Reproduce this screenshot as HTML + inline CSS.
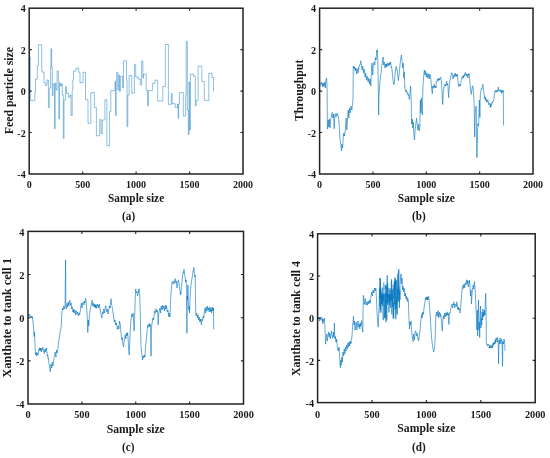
<!DOCTYPE html>
<html><head><meta charset="utf-8"><style>
html,body{margin:0;padding:0;background:#fff;width:550px;height:458px;overflow:hidden}
svg{display:block}
text{font-family:"Liberation Serif","Times New Roman",serif;font-weight:bold;fill:#1a1a1a}
.cp{font-size:11.2px}
</style></head><body>
<svg width="550" height="458" viewBox="0 0 550 458">
<polyline points="29.30,57.20 30.30,57.20 30.30,100.40 34.80,100.40 34.80,92.00 35.50,92.00 35.50,79.00 37.30,79.00 37.30,65.70 38.40,65.70 38.40,44.80 41.70,44.80 41.70,71.00 42.70,71.00 42.70,72.30 44.00,72.30 44.00,82.70 45.40,82.70 45.40,85.40 47.00,85.40 47.00,80.00 48.40,80.00 48.40,107.60 49.30,107.60 49.30,88.00 50.60,88.00 50.60,67.00 51.00,67.00 51.00,48.70 51.60,48.70 51.60,67.00 52.30,67.00 52.30,95.90 53.00,95.90 53.00,84.00 54.50,84.00 54.50,128.60 55.20,128.60 55.20,83.00 56.00,83.00 56.00,90.00 57.10,90.00 57.10,71.00 58.40,71.00 58.40,80.00 58.80,80.00 58.80,118.80 59.50,118.80 59.50,83.00 60.50,83.00 60.50,86.00 61.50,86.00 61.50,84.00 62.30,84.00 62.30,95.00 63.30,95.00 63.30,138.40 64.00,138.40 64.00,100.00 65.60,100.00 65.60,86.70 66.30,86.70 66.30,93.20 68.50,93.20 68.50,97.20 70.00,97.20 70.00,95.00 71.00,95.00 71.00,115.50 72.20,115.50 72.20,90.00 72.80,90.00 72.80,80.00 73.50,80.00 73.50,71.00 76.10,71.00 76.10,68.30 78.70,68.30 78.70,72.30 80.00,72.30 80.00,82.70 83.00,82.70 83.00,72.30 85.50,72.30 85.50,99.80 88.00,99.80 88.00,123.30 90.80,123.30 90.80,93.20 91.80,93.20 91.80,92.50 94.40,92.50 94.40,107.60 96.40,107.60 96.40,135.80 99.70,135.80 99.70,119.40 101.00,119.40 101.00,133.80 102.30,133.80 102.30,120.00 104.90,120.00 104.90,99.80 106.90,99.80 106.90,145.60 109.50,145.60 109.50,111.60 110.80,111.60 110.80,90.60 115.00,90.60 115.00,81.40 115.60,81.40 115.60,115.50 116.20,115.50 116.20,81.00 116.70,81.00 116.70,72.30 117.80,72.30 117.80,90.00 118.70,90.00 118.70,75.00 119.50,75.00 119.50,91.30 120.60,91.30 120.60,76.20 122.60,76.20 122.60,88.00 123.50,88.00 123.50,60.70 126.50,60.70 126.50,80.00 127.00,80.00 127.00,126.60 127.80,126.60 127.80,95.00 129.10,95.00 129.10,75.50 131.80,75.50 131.80,93.20 134.40,93.20 134.40,64.40 135.70,64.40 135.70,77.00 138.00,77.00 138.00,79.00 140.30,79.00 140.30,85.00 141.60,85.00 141.60,61.10 142.90,61.10 142.90,78.00 143.50,78.00 143.50,74.20 146.20,74.20 146.20,90.60 147.60,90.60 147.60,105.70 148.40,105.70 148.40,90.60 152.40,90.60 152.40,83.40 155.00,83.40 155.00,80.10 157.70,80.10 157.70,101.00 162.80,101.00 162.80,86.70 165.30,86.70 165.30,44.50 168.40,44.50 168.40,104.40 171.30,104.40 171.30,93.50 172.20,93.50 172.20,103.70 175.20,103.70 175.20,107.60 177.50,107.60 177.50,104.00 178.10,104.00 178.10,118.10 178.70,118.10 178.70,104.00 179.40,104.00 179.40,92.60 183.30,92.60 183.30,116.10 185.70,116.10 185.70,95.00 186.20,95.00 186.20,41.50 187.30,41.50 187.30,110.00 188.30,110.00 188.30,134.50 189.00,134.50 189.00,82.00 189.60,82.00 189.60,130.00 190.40,130.00 190.40,74.20 193.60,74.20 193.60,76.20 195.30,76.20 195.30,105.70 196.20,105.70 196.20,100.40 198.10,100.40 198.10,66.40 201.80,66.40 201.80,81.40 204.30,81.40 204.30,100.40 208.80,100.40 208.80,73.30 212.00,73.30 212.00,77.50 213.50,77.50 213.50,91.30" fill="none" stroke="#0072BD" stroke-width="0.45" stroke-linejoin="round"/>
<rect x="29.2" y="8.2" width="213.80" height="165.80" fill="none" stroke="#222" stroke-width="1.5"/>
<path d="M82.65,174v-2.6M82.65,8.2v2.6M136.10,174v-2.6M136.10,8.2v2.6M189.55,174v-2.6M189.55,8.2v2.6M29.2,132.55h2.6M243,132.55h-2.6M29.2,91.10h2.6M243,91.10h-2.6M29.2,49.65h2.6M243,49.65h-2.6" stroke="#222" stroke-width="1.1" fill="none"/>
<text x="29.20" y="188.20" text-anchor="middle" class="tk" font-size="10">0</text>
<text x="82.65" y="188.20" text-anchor="middle" class="tk" font-size="10">500</text>
<text x="136.10" y="188.20" text-anchor="middle" class="tk" font-size="10">1000</text>
<text x="189.55" y="188.20" text-anchor="middle" class="tk" font-size="10">1500</text>
<text x="243.00" y="188.20" text-anchor="middle" class="tk" font-size="10">2000</text>
<text x="25.70" y="178.10" text-anchor="end" class="tk" font-size="10">-4</text>
<text x="25.70" y="136.65" text-anchor="end" class="tk" font-size="10">-2</text>
<text x="25.70" y="95.20" text-anchor="end" class="tk" font-size="10">0</text>
<text x="25.70" y="53.75" text-anchor="end" class="tk" font-size="10">2</text>
<text x="25.70" y="12.30" text-anchor="end" class="tk" font-size="10">4</text>
<text transform="translate(136.10,201.8) scale(1,1.09)" text-anchor="middle" class="lb" font-size="11.3">Sample size</text>
<text transform="translate(128.60,220.2) scale(1.0,1.03)" text-anchor="middle" class="cp">(a)</text>
<text transform="translate(12.6,90.6) rotate(-90)" text-anchor="middle" class="lb" font-size="11.8">Feed particle size</text>
<polyline points="320.00,84.00 320.25,84.89 320.50,84.50 320.70,83.84 320.90,83.49 321.10,83.68 321.30,82.11 321.50,82.00 322.30,87.00 322.53,86.27 322.77,83.64 323.00,83.00 323.20,85.08 323.40,83.34 323.60,85.65 323.80,85.66 324.00,86.50 324.20,84.77 324.40,85.66 324.60,83.92 324.80,82.00 325.30,88.00 326.00,79.00 326.20,78.58 326.40,78.69 326.60,78.00 327.00,85.00 327.20,100.00 327.30,122.00 327.60,129.00 328.20,120.00 328.80,127.00 329.40,119.00 330.00,128.00 330.60,121.00 330.83,118.10 331.05,117.84 331.27,117.48 331.50,116.00 331.73,114.54 331.97,113.58 332.20,112.40 332.80,118.00 333.03,117.41 333.27,115.70 333.50,114.00 334.20,128.80 334.80,116.00 335.03,114.94 335.27,113.54 335.50,114.00 335.73,114.81 335.97,117.06 336.20,116.00 336.40,115.05 336.60,113.76 336.80,113.51 337.00,113.70 337.20,113.25 337.40,115.37 337.60,114.65 337.80,114.72 338.00,116.00 338.20,116.69 338.40,117.27 338.60,118.00 339.20,125.00 339.80,137.00 340.50,142.00 341.00,147.00 341.50,151.00 342.00,144.00 342.60,148.00 343.20,138.00 343.80,133.00 344.03,135.58 344.27,134.92 344.50,136.00 345.50,128.00 346.20,118.00 346.80,130.00 347.50,120.00 348.20,110.00 348.80,118.00 349.50,108.00 350.20,113.00 351.00,106.00 351.20,107.15 351.40,108.17 351.60,108.59 351.80,110.00 352.50,104.00 353.00,100.00 353.30,66.20 353.53,68.07 353.77,67.19 354.00,69.00 354.20,68.26 354.40,67.35 354.60,66.50 355.30,71.00 355.53,68.77 355.77,70.04 356.00,68.00 356.60,74.00 357.30,69.00 357.53,69.39 357.77,71.54 358.00,73.00 358.20,72.37 358.40,70.55 358.60,67.83 358.80,68.98 359.00,67.00 359.20,65.46 359.40,65.61 359.60,65.63 359.80,64.60 360.00,64.00 360.23,64.26 360.45,62.91 360.67,60.77 360.90,61.00 361.50,66.00 361.73,67.60 361.97,69.69 362.20,70.00 362.80,66.00 363.50,73.00 363.73,71.09 363.97,71.03 364.20,69.00 365.00,77.00 365.23,76.33 365.47,76.50 365.70,73.00 366.40,80.00 366.60,79.39 366.80,77.96 367.00,76.49 367.20,76.00 368.00,82.00 368.23,81.83 368.47,78.17 368.70,78.00 369.50,84.00 370.20,79.00 370.80,86.00 371.50,70.00 372.00,63.00 372.70,75.00 373.30,66.00 373.53,64.72 373.77,63.35 374.00,62.00 374.23,61.94 374.47,63.68 374.70,65.00 375.40,58.00 375.60,58.10 375.80,57.46 376.00,60.00 376.60,53.00 376.80,50.58 377.00,52.14 377.20,49.80 377.70,58.00 378.20,80.00 378.60,115.00 379.00,95.00 379.80,84.00 380.50,76.00 380.73,74.04 380.97,73.89 381.20,72.00 382.00,64.00 382.25,63.52 382.50,61.00 383.10,57.00 383.60,65.00 383.83,63.74 384.07,62.84 384.30,62.00 385.00,68.00 385.23,66.31 385.47,66.58 385.70,64.00 385.93,66.18 386.17,64.11 386.40,67.00 386.60,65.08 386.80,65.15 387.00,63.14 387.20,63.00 387.40,63.42 387.60,64.73 387.80,66.09 388.00,66.00 388.20,64.82 388.40,65.75 388.60,63.67 388.80,63.00 389.03,64.79 389.27,65.16 389.50,65.00 389.70,63.81 389.90,62.17 390.10,64.42 390.30,62.30 390.53,62.22 390.77,63.97 391.00,65.00 391.20,66.15 391.40,67.61 391.60,66.94 391.80,68.14 392.00,70.00 392.80,78.00 393.60,84.50 393.80,83.63 394.00,84.19 394.20,83.57 394.40,82.00 395.20,72.00 395.40,71.77 395.60,69.40 395.80,69.34 396.00,66.67 396.20,66.20 396.43,66.71 396.67,69.59 396.90,70.00 397.13,69.61 397.37,72.87 397.60,74.00 398.40,80.60 399.30,72.00 400.10,64.00 400.80,58.00 401.00,56.87 401.20,56.37 401.40,55.00 402.00,60.00 402.60,68.00 403.20,63.00 403.80,78.00 404.30,72.00 404.80,88.00 405.03,87.76 405.27,91.32 405.50,91.00 405.70,91.46 405.90,91.77 406.10,90.48 406.30,90.00 406.53,90.56 406.77,92.29 407.00,93.00 407.20,92.54 407.40,92.99 407.60,94.54 407.80,94.00 408.03,94.08 408.27,93.51 408.50,96.00 408.73,95.36 408.97,97.80 409.20,99.00 409.40,99.53 409.60,97.70 409.80,97.00 410.30,89.00 410.55,85.95 410.80,88.40 411.20,100.00 411.60,124.00 412.30,119.00 412.80,128.00 413.30,122.00 413.80,134.00 414.50,139.90 415.10,130.00 415.70,125.00 416.50,118.30 417.20,124.00 417.90,130.00 418.60,124.00 419.20,131.00 419.40,130.17 419.60,128.76 419.80,128.00 420.40,100.00 420.80,113.00 421.30,98.00 421.80,108.00 422.30,115.00 422.80,90.00 423.20,83.00 423.70,76.00 424.40,70.10 425.00,75.00 425.60,71.00 426.30,77.00 426.53,75.39 426.77,75.65 427.00,73.00 427.70,78.00 427.93,77.45 428.17,76.97 428.40,74.00 429.10,79.00 429.80,74.00 430.03,75.64 430.27,75.29 430.50,76.00 431.20,83.00 431.80,90.00 432.30,93.70 432.80,86.00 433.03,87.39 433.27,86.96 433.50,88.00 433.70,88.22 433.90,85.41 434.10,84.35 434.30,84.50 434.50,85.45 434.70,86.88 434.90,85.97 435.10,88.00 435.33,86.89 435.57,86.28 435.80,86.00 436.00,87.70 436.20,84.47 436.40,81.62 436.60,82.00 436.80,81.79 437.00,80.61 437.20,80.13 437.40,79.00 437.60,79.50 437.80,80.52 438.00,79.19 438.20,80.60 438.40,79.36 438.60,78.92 438.80,78.89 439.00,78.00 439.20,80.16 439.40,79.35 439.60,79.83 439.80,80.00 440.00,78.78 440.20,78.39 440.40,77.56 440.60,77.50 440.83,77.19 441.07,79.50 441.30,80.00 441.90,90.00 442.70,104.50 443.30,92.00 444.00,87.00 444.20,87.11 444.40,85.05 444.60,84.41 444.80,84.00 445.00,84.29 445.20,84.47 445.40,85.34 445.60,86.00 445.80,84.97 446.00,85.94 446.20,84.45 446.40,82.00 446.60,82.16 446.80,81.37 447.00,84.75 447.20,84.00 447.43,84.99 447.67,83.75 447.90,85.00 448.60,97.60 449.20,88.00 449.80,82.00 450.03,80.38 450.27,79.93 450.50,78.00 450.70,78.14 450.90,76.50 451.10,75.00 451.35,73.73 451.60,72.70 451.83,73.39 452.07,73.17 452.30,76.00 452.53,76.11 452.77,76.81 453.00,79.00 453.23,77.06 453.47,75.52 453.70,75.00 453.90,75.29 454.10,75.68 454.30,76.05 454.50,77.00 454.73,73.93 454.97,75.29 455.20,74.00 455.40,73.09 455.60,73.63 455.80,76.24 456.00,76.00 456.20,76.51 456.40,74.99 456.60,74.66 456.80,75.00 457.00,76.01 457.20,73.99 457.40,77.34 457.60,78.00 458.30,83.00 458.53,85.24 458.77,86.41 459.00,87.00 459.23,84.57 459.47,84.83 459.70,84.00 459.90,84.41 460.10,84.72 460.30,86.00 460.53,85.45 460.77,83.46 461.00,82.00 461.20,81.24 461.40,80.48 461.60,80.00 461.80,79.00 462.03,77.25 462.27,77.68 462.50,78.00 462.70,77.71 462.90,75.96 463.10,78.24 463.30,77.00 463.53,75.71 463.77,76.13 464.00,75.00 464.23,76.26 464.47,74.58 464.70,74.00 464.90,74.52 465.10,72.81 465.30,73.67 465.50,72.70 465.73,73.16 465.97,75.02 466.20,76.00 466.40,75.10 466.60,74.36 466.80,75.42 467.00,74.00 467.20,74.58 467.40,76.59 467.60,75.91 467.80,78.00 468.00,77.50 468.20,74.49 468.40,74.97 468.60,75.00 468.80,73.32 469.00,74.37 469.20,74.00 469.80,80.00 470.30,88.00 470.80,92.00 471.00,92.27 471.20,94.46 471.40,93.70 472.10,88.00 472.30,86.47 472.50,86.64 472.70,85.80 473.30,90.00 474.00,99.00 474.70,137.00 475.30,112.00 476.20,106.00 476.90,157.60 477.40,140.00 477.80,124.00 478.00,123.50 478.20,124.31 478.40,124.56 478.60,126.00 479.30,100.00 479.90,117.60 480.30,95.00 481.00,90.00 481.23,89.24 481.47,89.53 481.70,88.00 481.93,88.52 482.17,86.57 482.40,85.80 482.63,85.39 482.87,84.14 483.10,86.00 483.80,92.00 484.40,96.00 484.60,97.98 484.80,96.75 485.00,99.00 485.20,97.16 485.40,100.08 485.60,98.53 485.80,100.00 486.00,100.27 486.20,99.18 486.40,101.58 486.60,100.38 486.80,102.00 487.02,101.44 487.25,101.81 487.48,101.00 487.70,100.50 487.93,99.69 488.15,102.42 488.38,102.05 488.60,104.00 488.83,104.90 489.05,104.44 489.27,103.72 489.50,103.00 489.73,103.27 489.95,103.85 490.17,107.27 490.40,107.20 490.62,104.80 490.85,107.07 491.07,103.59 491.30,105.00 491.52,104.59 491.75,104.06 491.98,102.75 492.20,103.00 492.40,102.03 492.60,103.05 492.80,102.73 493.00,101.50 493.23,100.52 493.47,100.70 493.70,100.60 494.30,95.00 494.53,94.17 494.77,91.12 495.00,91.00 495.20,90.59 495.40,90.51 495.60,90.00 495.80,90.50 496.03,92.42 496.27,91.01 496.50,92.00 496.73,91.11 496.97,90.61 497.20,90.00 497.40,89.85 497.60,91.62 497.80,91.50 498.30,87.00 498.80,91.00 499.00,90.19 499.20,90.68 499.40,90.68 499.60,90.00 499.80,90.27 500.00,90.58 500.20,90.67 500.40,92.00 500.60,91.44 500.80,91.06 501.00,89.63 501.20,90.50 501.40,91.69 501.60,93.56 501.80,90.88 502.00,91.70 502.20,92.07 502.40,91.59 502.60,90.73 502.80,90.00 503.05,92.14 503.30,91.00 503.50,125.50" fill="none" stroke="#0072BD" stroke-width="0.6" stroke-linejoin="round"/>
<rect x="319.6" y="8.2" width="213.40" height="165.80" fill="none" stroke="#222" stroke-width="1.5"/>
<path d="M372.95,174v-2.6M372.95,8.2v2.6M426.30,174v-2.6M426.30,8.2v2.6M479.65,174v-2.6M479.65,8.2v2.6M319.6,132.55h2.6M533,132.55h-2.6M319.6,91.10h2.6M533,91.10h-2.6M319.6,49.65h2.6M533,49.65h-2.6" stroke="#222" stroke-width="1.1" fill="none"/>
<text x="319.60" y="188.20" text-anchor="middle" class="tk" font-size="10.1">0</text>
<text x="372.95" y="188.20" text-anchor="middle" class="tk" font-size="10.1">500</text>
<text x="426.30" y="188.20" text-anchor="middle" class="tk" font-size="10.1">1000</text>
<text x="479.65" y="188.20" text-anchor="middle" class="tk" font-size="10.1">1500</text>
<text x="533.00" y="188.20" text-anchor="middle" class="tk" font-size="10.1">2000</text>
<text x="316.10" y="178.10" text-anchor="end" class="tk" font-size="10.1">-4</text>
<text x="316.10" y="136.65" text-anchor="end" class="tk" font-size="10.1">-2</text>
<text x="316.10" y="95.20" text-anchor="end" class="tk" font-size="10.1">0</text>
<text x="316.10" y="53.75" text-anchor="end" class="tk" font-size="10.1">2</text>
<text x="316.10" y="12.30" text-anchor="end" class="tk" font-size="10.1">4</text>
<text transform="translate(426.30,201.8) scale(1,1.09)" text-anchor="middle" class="lb" font-size="11.5">Sample size</text>
<text transform="translate(418.80,219.5) scale(1.0,1.03)" text-anchor="middle" class="cp">(b)</text>
<text transform="translate(303.4,90.4) rotate(-90)" text-anchor="middle" class="lb" font-size="11.8">Throughput</text>
<polyline points="28.50,316.00 28.70,315.53 28.90,314.96 29.10,314.26 29.30,315.00 29.53,314.66 29.77,315.25 30.00,317.00 30.20,316.90 30.40,316.24 30.60,315.71 30.80,315.60 31.00,317.10 31.20,316.79 31.40,316.63 31.60,318.00 31.80,316.88 32.00,317.88 32.20,318.10 32.40,316.50 33.00,322.00 33.60,328.00 34.10,336.60 34.50,332.00 35.00,345.00 35.50,354.90 35.73,354.23 35.97,353.28 36.20,352.30 36.80,356.20 37.00,355.62 37.20,352.71 37.40,353.00 37.60,353.87 37.80,354.80 38.00,355.00 38.60,350.00 38.83,350.38 39.07,349.68 39.30,347.70 39.53,349.65 39.77,350.76 40.00,351.00 40.23,348.45 40.47,349.35 40.70,348.00 40.93,350.67 41.17,348.42 41.40,352.00 41.63,351.05 41.87,349.70 42.10,349.00 42.33,349.46 42.57,347.29 42.80,347.70 43.03,347.81 43.27,349.92 43.50,351.00 43.73,351.69 43.97,351.31 44.20,353.60 44.90,349.00 45.13,349.18 45.37,351.98 45.60,350.00 45.83,349.38 46.07,349.64 46.30,348.00 46.53,350.30 46.77,352.18 47.00,352.00 47.23,353.26 47.47,356.27 47.70,355.00 47.90,355.64 48.10,358.76 48.30,358.00 48.90,362.70 49.10,364.61 49.30,364.83 49.50,366.00 50.30,371.90 51.00,364.00 51.60,368.00 52.30,362.00 52.53,363.13 52.77,365.21 53.00,366.00 53.60,360.00 53.83,359.56 54.05,358.71 54.27,356.77 54.50,356.00 54.73,355.61 54.97,353.28 55.20,352.00 55.90,357.00 56.60,350.00 56.83,351.76 57.07,352.42 57.30,353.00 58.00,348.30 58.80,340.00 59.03,340.12 59.27,338.40 59.50,336.00 60.10,332.00 60.30,330.74 60.50,330.79 60.70,330.00 61.30,325.00 61.70,316.00 62.00,312.00 62.60,308.00 62.80,308.29 63.00,308.69 63.20,310.00 63.80,306.00 64.00,306.85 64.20,308.31 64.40,309.00 64.60,308.42 64.80,308.42 65.00,307.00 65.60,260.20 65.90,306.00 66.15,307.45 66.40,309.00 67.00,304.00 67.20,303.42 67.40,305.34 67.60,307.00 68.30,302.00 68.90,306.00 69.15,303.65 69.40,303.00 69.65,301.08 69.90,300.20 70.50,305.00 70.70,305.22 70.90,304.47 71.10,303.00 71.70,309.00 71.90,307.85 72.10,308.03 72.30,307.00 73.00,312.00 73.20,310.86 73.40,312.30 73.60,309.00 73.83,309.33 74.07,312.50 74.30,313.00 74.53,312.53 74.77,311.23 75.00,310.00 75.60,315.00 75.83,313.03 76.07,312.38 76.30,311.00 76.53,310.82 76.77,312.26 77.00,314.00 77.20,312.92 77.40,313.11 77.60,312.00 77.83,313.38 78.07,315.13 78.30,316.00 78.53,315.05 78.77,315.00 79.00,313.00 79.20,312.86 79.40,315.07 79.60,315.00 79.80,313.84 80.00,311.95 80.20,312.00 80.80,306.00 81.00,304.55 81.20,304.65 81.40,303.00 82.00,308.00 82.60,304.00 82.80,302.58 83.00,302.18 83.20,302.00 83.43,303.95 83.67,304.42 83.90,305.00 84.50,301.00 84.75,302.66 85.00,303.00 85.60,298.20 86.20,303.00 86.80,310.00 87.30,318.00 87.80,332.60 88.30,320.00 88.80,326.00 89.40,315.00 89.60,313.92 89.80,313.55 90.00,312.00 90.23,308.98 90.47,309.04 90.70,308.00 90.93,306.45 91.17,305.50 91.40,304.00 91.63,302.64 91.87,301.19 92.10,300.20 92.70,306.00 92.93,304.91 93.17,302.91 93.40,303.00 94.00,307.00 94.23,306.41 94.47,305.77 94.70,304.00 94.93,306.95 95.17,305.36 95.40,308.00 95.60,304.77 95.80,306.13 96.00,305.00 96.23,304.88 96.47,308.27 96.70,307.00 96.93,305.13 97.17,305.49 97.40,304.00 97.60,304.68 97.80,305.23 98.00,307.20 98.20,308.00 98.40,306.76 98.60,305.98 98.80,305.00 99.05,306.33 99.30,304.00 99.90,309.00 100.10,308.89 100.30,311.02 100.50,312.00 100.73,313.27 100.97,314.38 101.20,315.00 101.43,316.26 101.67,317.34 101.90,318.00 102.50,312.00 102.70,311.87 102.90,313.18 103.10,314.00 103.80,309.00 104.03,311.01 104.27,311.01 104.50,313.00 105.20,308.00 105.43,305.72 105.67,306.46 105.90,306.00 106.60,311.00 106.83,311.80 107.07,310.16 107.30,309.00 108.00,314.00 108.60,310.00 108.83,309.50 109.07,308.66 109.30,306.00 109.53,307.25 109.77,306.07 110.00,308.00 110.60,302.00 111.10,298.80 111.70,305.00 111.90,305.55 112.10,306.64 112.30,308.00 112.53,310.30 112.77,311.05 113.00,312.00 113.70,318.00 113.93,317.95 114.17,322.06 114.40,322.00 114.60,320.58 114.80,320.62 115.00,320.00 115.70,325.00 115.93,323.15 116.17,324.30 116.40,323.00 117.00,327.00 117.20,327.39 117.40,329.60 117.60,328.70 117.80,327.34 118.00,325.89 118.20,326.00 118.43,327.70 118.67,327.69 118.90,329.00 119.60,321.00 119.85,323.30 120.10,323.00 120.60,328.00 121.20,335.00 121.80,340.00 122.00,338.56 122.20,337.61 122.40,338.00 122.90,344.40 123.10,344.78 123.30,345.43 123.50,347.00 124.00,342.00 124.60,338.00 124.80,336.51 125.00,336.08 125.20,335.00 125.80,339.00 126.40,333.00 126.60,334.95 126.80,334.14 127.00,336.00 127.20,334.80 127.40,332.78 127.60,332.60 128.20,340.00 128.70,350.00 129.20,354.90 129.70,345.00 130.20,330.00 130.70,322.00 131.30,318.00 131.90,314.00 132.10,315.46 132.30,316.38 132.50,317.00 133.10,313.00 133.60,320.00 134.10,331.00 134.60,318.00 135.20,300.00 135.70,289.00 136.30,293.00 136.53,292.26 136.77,291.64 137.00,292.00 137.60,296.00 138.30,291.00 138.53,292.36 138.75,289.06 138.97,289.45 139.20,289.00 139.70,295.00 140.20,310.00 140.60,330.00 141.00,345.70 141.60,352.00 142.10,356.00 142.50,360.10 143.10,356.00 143.30,355.98 143.50,357.19 143.70,358.00 143.90,355.79 144.10,355.49 144.30,355.00 144.50,356.58 144.70,355.66 144.90,357.00 145.40,350.00 146.00,342.00 146.60,336.00 147.20,330.00 147.80,325.00 148.00,324.94 148.20,327.22 148.40,327.00 148.60,327.21 148.80,326.66 149.00,323.50 149.20,324.27 149.40,323.92 149.60,326.00 149.80,326.77 150.00,326.01 150.20,324.00 150.45,325.19 150.70,327.00 151.00,356.20 151.30,330.00 151.70,326.00 152.30,322.00 152.90,318.00 153.10,319.17 153.30,318.86 153.50,320.00 154.10,315.00 154.70,311.00 154.90,312.09 155.10,313.46 155.30,313.00 155.90,309.00 156.10,308.71 156.30,310.04 156.50,312.00 156.73,311.50 156.97,310.68 157.20,310.00 157.80,314.00 158.20,324.80 158.60,315.00 159.20,311.00 159.43,309.90 159.67,309.57 159.90,308.00 160.60,313.00 161.30,306.00 161.53,308.41 161.77,308.61 162.00,310.00 162.60,305.00 162.83,305.94 163.07,308.66 163.30,309.00 163.53,309.18 163.77,306.88 164.00,306.00 164.70,311.00 165.30,305.00 165.53,305.72 165.77,308.70 166.00,309.00 166.23,308.87 166.47,305.68 166.70,307.00 167.30,312.00 167.53,311.27 167.77,310.54 168.00,310.00 168.60,316.00 168.83,316.74 169.07,313.55 169.30,313.00 169.90,317.00 170.40,305.00 170.90,295.00 171.40,288.00 171.90,283.80 172.10,282.85 172.30,283.81 172.50,282.00 172.73,282.00 172.97,282.27 173.20,281.00 173.43,281.63 173.67,282.94 173.90,283.80 174.10,283.70 174.30,280.88 174.50,281.00 174.73,280.97 174.97,278.98 175.20,278.60 175.80,283.00 176.00,282.23 176.20,281.02 176.40,281.00 177.00,288.00 177.60,283.00 177.82,282.60 178.05,281.46 178.28,280.74 178.50,279.90 179.00,283.00 179.60,288.00 180.20,292.00 180.40,294.51 180.60,292.53 180.80,294.30 181.20,290.00 181.70,285.00 182.30,278.00 182.90,274.00 183.10,272.41 183.30,273.14 183.50,272.00 183.75,270.97 184.00,269.40 184.50,273.00 184.75,275.31 185.00,276.00 185.60,282.00 185.80,279.86 186.00,280.33 186.20,280.00 186.60,290.00 186.90,333.30 187.20,296.00 187.60,300.00 187.90,285.00 188.30,300.00 188.80,310.00 189.30,306.00 189.60,313.00 190.00,300.00 190.50,290.00 191.00,285.00 191.60,281.00 192.20,277.00 192.80,273.00 193.00,271.27 193.20,271.68 193.40,270.00 193.65,268.91 193.90,267.40 194.30,272.00 194.80,277.00 195.00,276.59 195.20,275.00 195.50,300.00 195.80,314.00 196.05,315.61 196.30,316.00 196.50,314.42 196.70,313.39 196.90,313.00 197.50,318.00 197.70,316.58 197.90,315.64 198.10,315.00 198.70,320.00 198.90,319.29 199.10,317.98 199.30,317.00 199.90,322.00 200.10,319.61 200.30,320.74 200.50,319.00 201.40,324.80 202.00,319.00 202.20,318.81 202.40,320.77 202.60,321.00 203.20,316.00 203.40,316.82 203.60,317.32 203.80,318.00 204.40,312.00 205.00,308.00 205.60,313.00 206.20,307.00 206.80,311.00 207.40,306.00 208.00,310.00 208.20,309.05 208.40,309.57 208.60,308.00 209.20,312.00 209.80,307.00 210.40,311.00 210.60,310.48 210.80,312.01 211.00,308.00 211.60,313.00 212.20,307.00 212.80,311.00 213.00,308.19 213.20,310.48 213.40,308.00 213.80,329.40" fill="none" stroke="#0072BD" stroke-width="0.6" stroke-linejoin="round"/>
<rect x="28" y="231.4" width="215.50" height="172.60" fill="none" stroke="#222" stroke-width="1.5"/>
<path d="M81.88,404v-2.6M81.88,231.4v2.6M135.75,404v-2.6M135.75,231.4v2.6M189.62,404v-2.6M189.62,231.4v2.6M28,360.85h2.6M243.5,360.85h-2.6M28,317.70h2.6M243.5,317.70h-2.6M28,274.55h2.6M243.5,274.55h-2.6" stroke="#222" stroke-width="1.1" fill="none"/>
<text x="28.00" y="418.20" text-anchor="middle" class="tk" font-size="10.3">0</text>
<text x="81.88" y="418.20" text-anchor="middle" class="tk" font-size="10.3">500</text>
<text x="135.75" y="418.20" text-anchor="middle" class="tk" font-size="10.3">1000</text>
<text x="189.62" y="418.20" text-anchor="middle" class="tk" font-size="10.3">1500</text>
<text x="243.50" y="418.20" text-anchor="middle" class="tk" font-size="10.3">2000</text>
<text x="24.50" y="408.10" text-anchor="end" class="tk" font-size="10.3">-4</text>
<text x="24.50" y="364.95" text-anchor="end" class="tk" font-size="10.3">-2</text>
<text x="24.50" y="321.80" text-anchor="end" class="tk" font-size="10.3">0</text>
<text x="24.50" y="278.65" text-anchor="end" class="tk" font-size="10.3">2</text>
<text x="24.50" y="235.50" text-anchor="end" class="tk" font-size="10.3">4</text>
<text transform="translate(135.75,433.2) scale(1,1.09)" text-anchor="middle" class="lb" font-size="11.7">Sample size</text>
<text transform="translate(128.25,451.0) scale(1.0,1.03)" text-anchor="middle" class="cp">(c)</text>
<text transform="translate(10.9,317.9) rotate(-90)" text-anchor="middle" class="lb" font-size="12.4">Xanthate to tank cell 1</text>
<polyline points="318.20,319.00 318.40,318.37 318.60,318.24 318.80,317.00 319.03,318.85 319.27,319.55 319.50,321.00 319.73,321.10 319.97,317.12 320.20,318.00 320.43,317.49 320.67,319.49 320.90,320.00 321.13,319.44 321.37,317.32 321.60,317.00 321.83,317.98 322.07,319.58 322.30,321.00 322.53,319.40 322.77,323.79 323.00,319.00 323.23,320.74 323.47,320.96 323.70,322.00 323.93,319.37 324.17,318.67 324.40,318.00 325.00,330.00 325.60,344.20 326.20,338.00 326.80,334.00 327.40,341.00 328.00,336.00 328.60,332.00 329.20,337.00 329.80,333.00 330.40,339.00 331.00,335.00 331.60,331.00 332.20,336.00 332.40,336.32 332.60,338.08 332.80,338.00 333.40,334.00 333.60,332.15 333.80,335.51 334.00,337.00 334.40,323.00 334.70,336.00 334.90,337.67 335.10,336.75 335.30,339.00 335.53,336.80 335.77,341.75 336.00,342.00 336.20,341.13 336.40,342.07 336.60,339.00 337.20,345.00 337.40,347.13 337.60,347.79 337.80,348.00 338.03,350.58 338.27,349.03 338.50,350.70 339.00,347.00 339.50,356.00 340.00,362.00 340.30,367.70 340.80,360.00 341.30,365.00 341.80,357.00 342.40,362.00 343.00,352.00 343.60,356.00 344.20,349.00 344.80,354.00 345.40,347.00 346.00,351.00 346.60,345.00 347.20,349.00 347.80,344.00 348.00,343.00 348.20,347.15 348.40,347.00 349.00,342.00 349.60,346.00 350.20,341.00 350.40,342.83 350.60,341.81 350.80,344.00 351.40,340.30 352.00,336.00 352.50,328.00 353.00,322.00 353.50,316.30 354.00,325.00 354.50,321.00 355.00,330.00 355.60,326.00 356.20,322.00 356.80,330.00 357.40,326.00 358.00,321.00 358.60,327.00 358.80,327.18 359.00,326.99 359.20,324.00 359.80,329.00 360.40,323.00 360.60,326.10 360.80,325.67 361.00,326.00 361.60,320.60 362.20,328.00 362.80,332.00 363.00,312.00 363.40,295.40 364.00,301.00 364.23,304.53 364.47,303.40 364.70,304.00 364.93,300.89 365.17,298.48 365.40,300.00 366.10,305.00 366.33,304.35 366.57,302.65 366.80,302.00 367.03,302.59 367.27,302.49 367.50,305.20 368.20,301.00 368.43,303.02 368.67,303.38 368.90,304.00 369.13,301.22 369.37,301.89 369.60,300.00 369.83,301.40 370.07,303.29 370.30,303.00 371.00,297.00 371.70,292.00 371.93,293.41 372.17,295.29 372.40,296.00 373.10,290.00 373.33,292.27 373.57,291.23 373.80,293.00 374.50,288.00 374.73,288.96 374.97,290.55 375.20,291.00 375.43,290.29 375.67,288.01 375.90,288.00 376.50,300.00 377.00,312.00 377.60,321.00 378.20,327.20 378.70,316.00 379.20,305.00 379.40,288.80 379.60,289.10 379.80,306.30 380.00,278.10 380.20,298.50 380.40,278.40 380.60,310.20 380.80,301.70 381.00,312.60 381.20,294.90 381.40,303.40 381.60,296.90 381.80,292.50 382.00,300.90 382.20,287.50 382.40,296.00 382.60,306.00 382.80,299.90 383.00,295.40 383.20,320.10 383.40,299.80 383.60,293.60 383.80,300.70 384.00,294.10 384.20,295.40 384.40,295.70 384.60,318.20 384.80,299.20 385.00,300.60 385.20,305.30 385.40,318.00 385.60,296.70 385.80,292.80 386.00,322.20 386.20,284.80 386.40,295.20 386.60,304.90 386.80,320.30 387.00,289.50 387.20,275.40 387.40,304.70 387.60,293.50 387.80,294.70 388.00,302.70 388.20,300.40 388.40,301.00 388.60,294.10 388.80,310.40 389.00,312.40 389.20,298.40 389.40,293.80 389.60,305.00 389.80,302.50 390.00,288.10 390.20,293.50 390.40,307.80 390.60,296.90 390.80,294.70 391.00,299.80 391.20,297.40 391.40,297.60 391.60,279.30 391.80,314.20 392.00,299.40 392.20,289.20 392.40,306.80 392.60,300.40 392.80,297.60 393.00,307.30 393.20,318.80 393.40,302.50 393.60,312.30 393.80,317.70 394.00,287.50 394.20,292.20 394.40,304.50 394.60,280.80 394.80,294.50 395.00,309.30 395.20,306.80 395.40,302.40 395.60,278.80 395.80,319.10 396.00,302.00 396.20,304.00 396.40,301.40 396.60,280.40 396.80,283.00 397.00,285.00 397.20,314.80 397.40,288.60 397.60,294.20 397.80,294.00 398.00,301.80 398.20,301.10 398.40,298.90 398.60,284.30 398.80,269.20 399.00,297.80 399.20,298.70 399.40,307.80 399.60,295.10 399.80,290.20 400.00,299.90 400.00,285.00 400.50,278.00 401.10,273.80 401.60,284.00 402.00,278.00 402.40,290.00 403.00,286.00 403.60,292.00 404.20,288.00 404.80,296.00 405.00,294.74 405.20,296.02 405.40,293.00 406.00,299.00 406.20,298.82 406.40,297.57 406.60,296.00 407.20,301.00 407.40,301.46 407.60,298.35 407.80,298.00 408.05,299.30 408.30,300.00 408.70,310.00 409.00,320.00 409.50,329.00 410.00,322.00 410.25,324.13 410.50,325.00 411.00,321.00 411.60,330.00 412.30,338.00 412.53,337.56 412.77,338.54 413.00,341.60 413.70,334.00 414.40,340.00 415.10,333.00 415.33,331.01 415.57,331.34 415.80,331.00 416.50,336.00 416.73,334.90 416.97,333.92 417.20,333.00 417.90,339.00 418.13,338.55 418.37,340.04 418.60,341.00 419.30,335.00 420.00,330.00 420.70,322.00 421.40,316.00 421.63,316.52 421.87,314.09 422.10,318.00 422.80,312.00 423.03,314.52 423.27,313.18 423.50,314.00 424.20,306.00 424.43,306.20 424.67,303.21 424.90,302.00 425.13,301.35 425.37,297.93 425.60,298.60 425.83,298.35 426.07,297.35 426.30,300.00 426.50,297.38 426.70,297.70 426.90,296.70 427.10,298.07 427.30,297.54 427.50,300.00 427.70,297.37 427.90,300.02 428.10,297.00 428.30,296.97 428.50,296.16 428.70,296.70 429.20,301.00 429.80,310.00 430.40,318.00 431.00,330.00 431.60,338.00 432.20,343.00 432.80,348.00 433.05,348.22 433.30,350.70 433.55,351.25 433.80,352.00 434.05,349.66 434.30,349.00 434.80,345.00 435.20,335.00 435.60,322.00 436.00,315.00 436.25,315.63 436.50,312.00 436.73,313.81 436.97,313.61 437.20,316.00 437.90,311.70 438.13,310.47 438.37,317.71 438.60,315.00 438.83,313.41 439.07,314.00 439.30,312.00 440.00,317.00 440.23,315.66 440.47,313.63 440.70,314.00 441.30,319.00 441.80,326.00 442.30,331.00 442.80,320.00 443.40,316.00 443.60,317.01 443.80,316.44 444.00,319.00 444.60,313.00 445.20,317.00 445.80,313.00 446.00,312.89 446.20,313.44 446.40,316.00 447.00,312.00 447.20,311.84 447.40,313.62 447.60,315.00 447.80,313.65 448.00,315.13 448.20,313.00 448.90,324.50 449.40,315.00 449.60,313.70 449.80,312.49 450.00,312.00 450.23,312.51 450.47,311.48 450.70,309.00 450.93,307.35 451.17,307.00 451.40,306.00 451.63,306.20 451.87,304.54 452.10,304.00 452.33,305.64 452.57,305.83 452.80,308.00 453.03,305.50 453.27,304.13 453.50,305.00 453.73,301.83 453.97,302.78 454.20,303.90 454.43,303.91 454.67,307.63 454.90,307.00 455.13,305.40 455.37,304.32 455.60,304.00 455.83,304.80 456.07,306.89 456.30,306.50 456.53,305.17 456.77,301.81 457.00,305.00 457.23,304.78 457.47,304.95 457.70,308.00 457.93,309.13 458.17,307.16 458.40,310.00 458.60,307.86 458.80,309.60 459.00,308.69 459.20,308.00 460.00,313.00 460.50,309.00 461.00,302.00 461.60,294.00 462.20,289.00 462.40,287.88 462.60,285.89 462.80,285.60 463.03,286.09 463.27,288.57 463.50,287.00 463.70,284.77 463.90,284.91 464.10,284.00 464.70,288.00 465.30,283.00 465.50,283.25 465.70,283.89 465.90,285.00 466.50,279.70 467.10,284.00 467.30,283.65 467.50,280.45 467.70,282.00 468.30,287.00 468.90,283.00 469.10,281.00 469.30,282.65 469.50,280.00 470.00,288.00 470.50,296.00 471.00,290.00 471.50,303.90 472.00,294.00 472.60,288.00 472.80,288.24 473.00,286.06 473.20,285.00 473.80,289.00 474.40,281.60 474.90,286.00 475.30,292.00 475.70,300.00 476.10,310.00 476.50,318.00 476.90,330.00 477.30,310.00 477.70,336.00 478.10,318.00 478.50,300.00 478.90,330.00 479.30,322.00 479.70,337.60 480.10,316.00 480.50,306.00 480.90,328.00 481.30,318.00 481.70,325.00 482.10,312.00 482.50,320.00 482.90,309.00 483.30,317.00 483.70,312.00 484.10,316.00 484.50,310.00 484.90,315.00 485.30,300.00 485.70,293.40 486.10,310.00 486.30,342.90 486.53,342.87 486.77,344.57 487.00,344.00 487.20,344.77 487.40,345.05 487.60,346.16 487.80,346.00 488.00,345.00 488.20,344.08 488.40,344.64 488.60,344.50 488.80,344.74 489.00,344.78 489.20,348.19 489.40,347.00 489.60,347.87 489.80,346.83 490.00,347.58 490.20,345.00 490.40,347.96 490.60,347.39 490.80,347.64 491.00,348.10 491.20,347.43 491.40,348.02 491.60,346.73 491.80,346.00 492.00,345.31 492.20,347.80 492.40,344.71 492.60,347.50 492.80,347.33 493.00,346.53 493.20,342.79 493.40,345.00 493.60,343.01 493.80,344.67 494.00,344.01 494.20,344.00 494.40,342.16 494.60,343.92 494.80,343.03 495.00,342.00 495.20,339.81 495.40,343.32 495.60,339.35 495.80,340.00 496.00,338.55 496.20,337.69 496.40,338.00 497.00,342.00 497.60,337.60 498.20,344.00 498.60,363.80 499.00,340.00 499.20,340.49 499.40,343.70 499.60,343.00 500.20,338.00 500.80,344.00 501.40,339.00 501.60,339.92 501.80,341.28 502.00,342.00 502.50,366.40 502.90,341.00 503.10,343.67 503.30,343.10 503.50,344.00 504.10,339.00 504.70,343.00 505.10,350.70" fill="none" stroke="#0072BD" stroke-width="0.6" stroke-linejoin="round"/>
<polyline points="379.80,313.40 380.05,287.10 380.30,298.60 380.55,293.80 380.80,288.90 381.05,291.30 381.30,291.70 381.55,295.00 381.80,298.90 382.05,303.90 382.30,297.30 382.55,304.40 382.80,299.10 383.05,296.20 383.30,293.60 383.55,287.50 383.80,282.60 384.05,294.50 384.30,293.80 384.55,297.70 384.80,297.70 385.05,285.00 385.30,289.40 385.55,286.10 385.80,302.90 386.05,294.00 386.30,295.80 386.55,287.70 386.80,284.70 387.05,290.10 387.30,293.90 387.55,298.30 387.80,282.60 388.05,297.20 388.30,287.80 388.55,290.40 388.80,291.90 389.05,291.10 389.30,298.10 389.55,301.40 389.80,297.10 390.05,290.20 390.30,297.70 390.55,297.30 390.80,301.10 391.05,296.40 391.30,281.60 391.55,288.30 391.80,291.10 392.05,301.50 392.30,293.10 392.55,301.40 392.80,296.50 393.05,284.70 393.30,294.50 393.55,298.40 393.80,297.30 394.05,282.30 394.30,297.40 394.55,289.30 394.80,277.30 395.05,289.40 395.30,278.40 395.55,283.80 395.80,305.20 396.05,313.30 396.30,302.20 396.55,297.20 396.80,308.70 397.05,296.40 397.30,286.00 397.55,274.30 397.80,300.80 398.05,275.80 398.30,271.00 398.55,288.40 398.80,294.10 399.05,286.70 399.30,301.80 399.55,292.80 399.80,295.10" fill="none" stroke="#0072BD" stroke-width="0.5" stroke-opacity="0.8" stroke-linejoin="round"/>
<rect x="317.6" y="233.8" width="217.60" height="168.80" fill="none" stroke="#222" stroke-width="1.5"/>
<path d="M372.00,402.6v-2.6M372.00,233.8v2.6M426.40,402.6v-2.6M426.40,233.8v2.6M480.80,402.6v-2.6M480.80,233.8v2.6M317.6,360.40h2.6M535.2,360.40h-2.6M317.6,318.20h2.6M535.2,318.20h-2.6M317.6,276.00h2.6M535.2,276.00h-2.6" stroke="#222" stroke-width="1.1" fill="none"/>
<text x="317.60" y="417.60" text-anchor="middle" class="tk" font-size="10.3">0</text>
<text x="372.00" y="417.60" text-anchor="middle" class="tk" font-size="10.3">500</text>
<text x="426.40" y="417.60" text-anchor="middle" class="tk" font-size="10.3">1000</text>
<text x="480.80" y="417.60" text-anchor="middle" class="tk" font-size="10.3">1500</text>
<text x="535.20" y="417.60" text-anchor="middle" class="tk" font-size="10.3">2000</text>
<text x="314.10" y="406.70" text-anchor="end" class="tk" font-size="10.3">-4</text>
<text x="314.10" y="364.50" text-anchor="end" class="tk" font-size="10.3">-2</text>
<text x="314.10" y="322.30" text-anchor="end" class="tk" font-size="10.3">0</text>
<text x="314.10" y="280.10" text-anchor="end" class="tk" font-size="10.3">2</text>
<text x="314.10" y="237.90" text-anchor="end" class="tk" font-size="10.3">4</text>
<text transform="translate(426.40,432.2) scale(1,1.09)" text-anchor="middle" class="lb" font-size="11.7">Sample size</text>
<text transform="translate(418.90,450.5) scale(1.0,1.03)" text-anchor="middle" class="cp">(d)</text>
<text transform="translate(300.3,318.5) rotate(-90)" text-anchor="middle" class="lb" font-size="11.9">Xanthate to tank cell 4</text>
</svg>
</body></html>
